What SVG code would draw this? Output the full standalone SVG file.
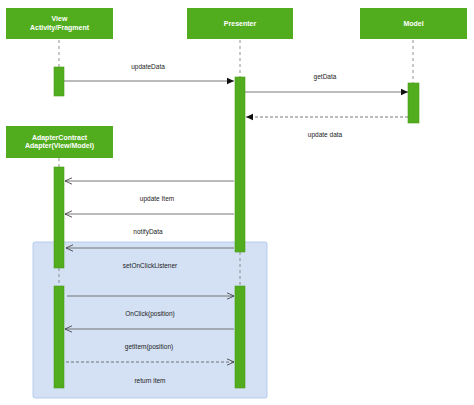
<svg xmlns="http://www.w3.org/2000/svg" width="474" height="405" viewBox="0 0 474 405">
<style>
.hdr{fill:#52ad1e}
.act{fill:#52ad1e;stroke:#4a9c1a;stroke-width:0.6}
.ht{font-family:"Liberation Sans",Arial,sans-serif;font-size:7px;font-weight:bold;fill:#fff;text-anchor:middle}
.lbl{font-family:"Liberation Sans",Arial,sans-serif;font-size:6.5px;fill:#222;text-anchor:middle}
.life{stroke:#777;stroke-width:0.8;stroke-dasharray:3,3;fill:none}
.msg{stroke:#555;stroke-width:0.8;fill:none}
.dash{stroke-dasharray:3,2}
</style>
<defs>
<marker id="fill" markerWidth="8" markerHeight="8" refX="7" refY="4" orient="auto" markerUnits="userSpaceOnUse"><path d="M0,0.8 L7,4 L0,7.2 Z" fill="#111"/></marker>
<marker id="open" markerWidth="8" markerHeight="8" refX="7" refY="4" orient="auto" markerUnits="userSpaceOnUse"><path d="M0,0.8 L7,4 L0,7.2" fill="none" stroke="#333" stroke-width="0.8"/></marker>
</defs>
<rect id="frame" x="33" y="242" width="234" height="156" rx="2" fill="#d4e1f5" stroke="#a9c3e8" stroke-width="0.8"/>
<g id="lifelines">
<line class="life" x1="59" y1="40" x2="59" y2="67"/>
<line class="life" x1="240" y1="40" x2="240" y2="77"/>
<line class="life" x1="413" y1="40" x2="413" y2="83"/>
<line class="life" x1="59" y1="158" x2="59" y2="167"/>
<line class="life" x1="59" y1="268" x2="59" y2="286"/>
<line class="life" x1="240" y1="252" x2="240" y2="286"/>
</g>
<g id="view">
<rect class="hdr" x="6" y="8" width="107" height="31"/>
<text class="ht" x="59.5" y="21">View</text>
<text class="ht" x="59.5" y="30">Activity/Fragment</text>
<rect class="act" x="54" y="67" width="10" height="29"/>
</g>
<g id="presenter">
<rect class="hdr" x="187" y="8" width="106" height="31"/>
<text class="ht" x="240" y="26">Presenter</text>
<rect class="act" x="235" y="77" width="10" height="175"/>
<rect class="act" x="235" y="286" width="10" height="102"/>
</g>
<g id="model">
<rect class="hdr" x="360" y="8" width="107" height="31"/>
<text class="ht" x="413.5" y="26">Model</text>
<rect class="act" x="408" y="83" width="11" height="40"/>
</g>
<g id="adapter">
<rect class="hdr" x="6" y="126" width="107" height="32"/>
<text class="ht" x="59.5" y="140">AdapterContract</text>
<text class="ht" x="59.5" y="148">Adapter(View/Model)</text>
<rect class="act" x="54" y="167" width="10" height="101"/>
<rect class="act" x="54" y="286" width="10" height="102"/>
</g>
<g id="connectors">
<line class="msg" x1="64" y1="81" x2="234" y2="81" marker-end="url(#fill)"/>
<line class="msg" x1="245" y1="92" x2="408" y2="92" marker-end="url(#fill)"/>
<line class="msg dash" x1="408" y1="117" x2="246" y2="117" marker-end="url(#fill)"/>
<line class="msg" x1="234" y1="181" x2="65" y2="181" marker-end="url(#open)"/>
<line class="msg" x1="234" y1="214" x2="65" y2="214" marker-end="url(#open)"/>
<line class="msg" x1="234" y1="248" x2="66" y2="248" marker-end="url(#open)"/>
<line class="msg" x1="67" y1="296" x2="234" y2="296" marker-end="url(#open)"/>
<line class="msg" x1="234" y1="329" x2="65" y2="329" marker-end="url(#open)"/>
<line class="msg dash" x1="66" y1="362" x2="234" y2="362" marker-end="url(#open)"/>
</g>
<g id="labels">
<text class="lbl" x="148" y="69">updateData</text>
<text class="lbl" x="325" y="79">getData</text>
<text class="lbl" x="325" y="137">update data</text>
<text class="lbl" x="157" y="201">update Item</text>
<text class="lbl" x="148" y="234">notifyData</text>
<text class="lbl" x="150" y="268">setOnClickListener</text>
<text class="lbl" x="150" y="316">OnClick(position)</text>
<text class="lbl" x="149" y="349">getItem(position)</text>
<text class="lbl" x="150" y="383">return item</text>
</g>
</svg>
